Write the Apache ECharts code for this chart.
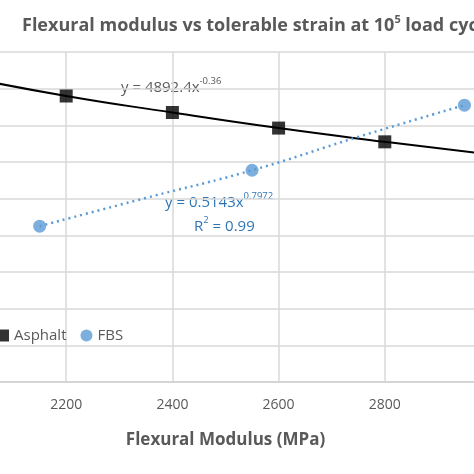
<!DOCTYPE html><html><head><meta charset="utf-8"><script src="https://cdn.jsdelivr.net/npm/echarts@6/dist/echarts.min.js"></script></head><body style="margin:0"><div id="c" style="width:474px;height:474px"></div><script>
const xTicks=[2000,2200,2400,2600,2800,3000];
const asphaltX=[2200,2400,2600,2800];
const asphaltY=[306,297,288.5,281];
const fbsX=[2150,2550,2950];
const fbsY=[235,265.5,301];
const asphaltTrendX=[2000,2200,2400,2600,2800,3000];
const asphaltTrendY=[317,306,297,288.5,281,274];
const fbsTrendX=[2150,2350,2550,2750,2950];
const fbsTrendY=[235,250.4,265.5,283.7,301];
const zip=(a,b)=>a.map((v,i)=>[v,b[i]]);
const ch=echarts.init(document.getElementById('c'));
const F='"Open Sans",sans-serif';
ch.setOption({
animation:false,
grid:{left:-40,right:-17,top:52,bottom:92,containLabel:false,outerBoundsMode:'none'},
xAxis:{type:'value',min:2000,max:3000,interval:200,
 axisLine:{lineStyle:{color:'#d0d0d0',width:1.5}},axisTick:{show:false},
 splitLine:{lineStyle:{color:'#d9d9d9',width:1.5}},
 axisLabel:{color:'#595959',fontSize:14,fontFamily:F,margin:16,formatter:v=>String(v)},
 name:'Flexural Modulus (MPa)',nameLocation:'middle',nameGap:50,
 nameTextStyle:{color:'#595959',fontSize:17,fontWeight:'bold',fontFamily:F}},
yAxis:{type:'value',min:150,max:330,interval:20,axisLabel:{show:false},axisLine:{show:false},axisTick:{show:false},
 splitLine:{lineStyle:{color:'#d9d9d9',width:1.5}}},
legend:{left:-8,top:323,itemWidth:12,itemHeight:12,itemGap:14,textStyle:{color:'#595959',fontSize:15,fontFamily:F},
 data:[{name:'Asphalt',icon:'rect'},{name:'FBS',icon:'circle'}]},
series:[
 {type:'line',data:zip(asphaltTrendX,asphaltTrendY),smooth:true,showSymbol:false,lineStyle:{color:'#000',width:2},silent:true,z:1},
 {type:'line',data:zip(fbsTrendX,fbsTrendY),smooth:true,showSymbol:false,lineStyle:{color:'#5b9bd5',width:2.5,type:[2,4]},silent:true,z:1},
 {name:'Asphalt',type:'scatter',data:zip(asphaltX,asphaltY),symbol:'rect',symbolSize:13,itemStyle:{color:'#000'},z:3},
 {name:'FBS',type:'scatter',data:zip(fbsX,fbsY),symbol:'circle',symbolSize:13,itemStyle:{color:'#5b9bd5'},z:3}
],
graphic:[
 {type:'text',left:22,top:14,style:{text:'{t|Flexural modulus vs tolerable strain at 10}{s|5}{t| load cycles}',rich:{t:{fontSize:18,fontWeight:'bold',fill:'#595959',fontFamily:F},s:{fontSize:11,fontWeight:'bold',fill:'#595959',fontFamily:F,padding:[0,0,12,0]}}}},
 {type:'text',left:121,top:76,style:{text:'{t|y = 4892.4x}{s|-0.36}',rich:{t:{fontSize:15,fill:'#595959',fontFamily:F},s:{fontSize:9.5,fill:'#595959',fontFamily:F,padding:[0,0,14,0]}}}},
 {type:'text',left:165,top:191,style:{text:'{t|y = 0.5143x}{s|0.7972}',rich:{t:{fontSize:15,fill:'#2e75b6',fontFamily:F},s:{fontSize:9.5,fill:'#2e75b6',fontFamily:F,padding:[0,0,14,0]}}}},
 {type:'text',left:194,top:215,style:{text:'{t|R}{s|2}{t| = 0.99}',rich:{t:{fontSize:15,fill:'#2e75b6',fontFamily:F},s:{fontSize:9.5,fill:'#2e75b6',fontFamily:F,padding:[0,0,14,0]}}}}
]
});
</script></body></html>
